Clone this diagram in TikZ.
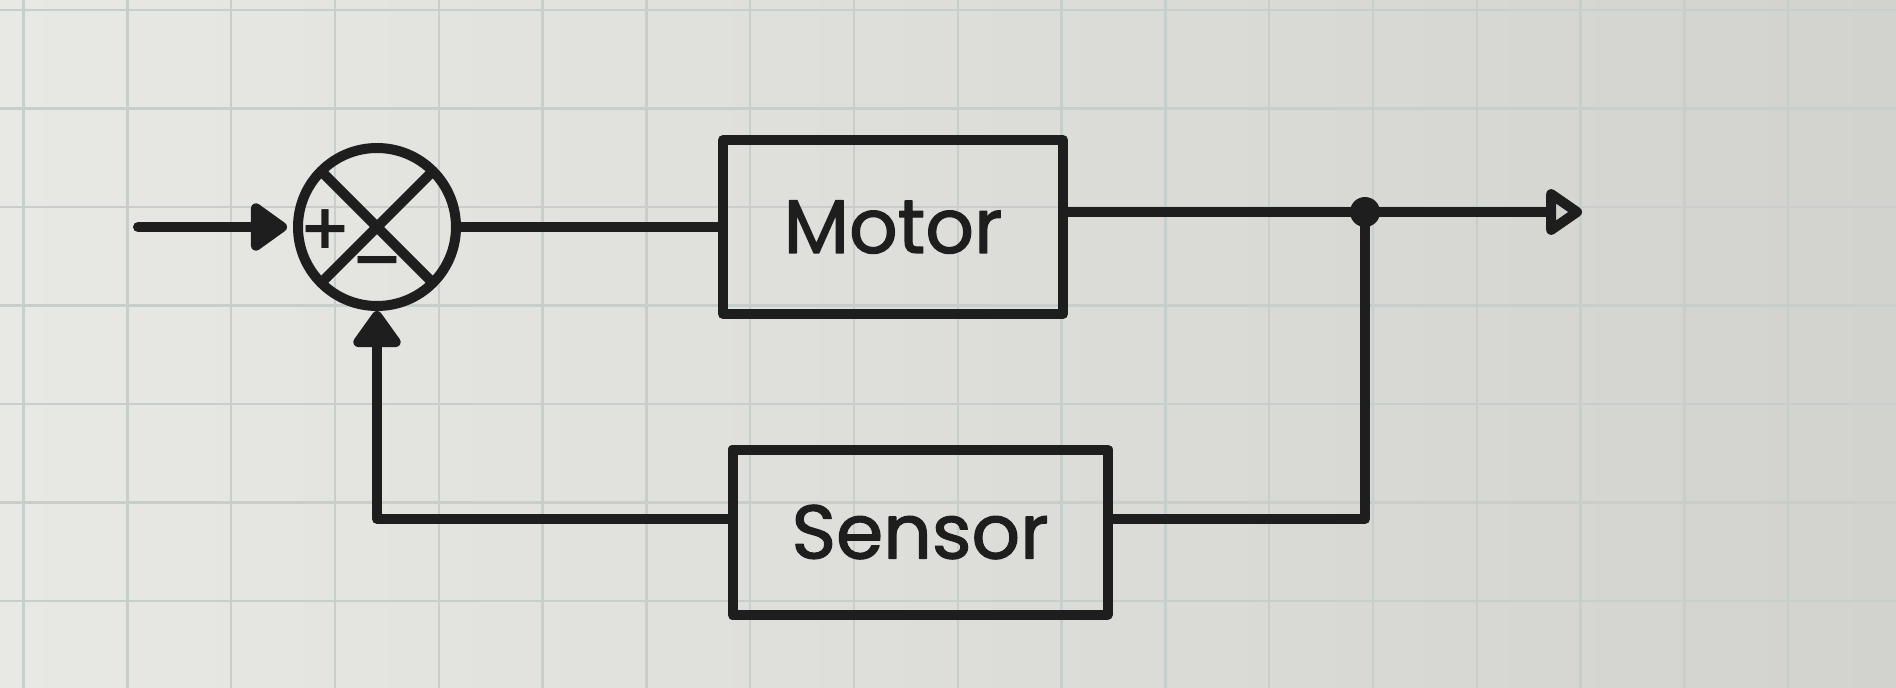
\documentclass[tikz,border=0pt]{standalone}
\usepackage{fontspec}
\setmainfont{Poppins}
\newfontfamily\handfont{Poppins}[FakeBold=1.6]
\newfontfamily\symfont{DejaVu Sans}
\usetikzlibrary{arrows.meta,calc}
\definecolor{paperL}{RGB}{232,232,229}
\definecolor{paperR}{RGB}{210,210,207}
\definecolor{gridc}{RGB}{199,207,205}
\definecolor{ink}{RGB}{30,30,30}
\tikzset{
  pen/.style={draw=ink, line width=10pt, line cap=round, line join=round},
  block/.style={pen, rectangle, inner sep=0pt, font=\handfont\fontsize{76}{90}\selectfont, text=ink},
  summer/.style={pen, circle, minimum size=158pt, inner sep=0pt},
  sign/.style={font=\symfont\bfseries\fontsize{62}{64}\selectfont, text=ink, inner sep=0pt},
  tipfill/.style={-{Triangle[round,length=40pt,width=54pt]}},
  tipopen/.style={-{Triangle[open,round,fill=paperR,length=40pt,width=52pt]}},
  gridline/.style={draw=gridc, line width=2.5pt},
}
\begin{document}
\begin{tikzpicture}[x=1pt,y=-1pt]
\useasboundingbox (0,0) rectangle (1896,688);
\shade[left color=paperL,right color=paperR] (0,0) rectangle (1896,688);
\foreach \k in {-3,...,14} \draw[gridline] ({335+103.8*\k},0) -- ({335+103.8*\k},688);
\foreach \k in {0,...,6} \draw[gridline] (0,{10+98.5*\k}) -- (1896,{10+98.5*\k});

% nodes
\node[summer] (sum) at (377,227) {};
\draw[pen] ($(sum.center)+(135:77)$) -- ($(sum.center)+(-45:77)$);
\draw[pen] ($(sum.center)+(45:77)$) -- ($(sum.center)+(-135:77)$);
\node[sign] (plus) at (325,229) {+};
\node[sign] (minus) at (377,268) {−};

\node[block, minimum width=340pt, minimum height=174pt] (motor) at (893,227) {Motor};
\node[block, minimum width=375pt, minimum height=165pt] (sensor) at (920,532) {Sensor};

% coordinates
\coordinate (in) at (138,227);
\coordinate (j) at (1365,212);
\coordinate (out) at (1582,212);
\coordinate (fb) at (377,519);

% connectors
\draw[pen, tipfill, shorten >=6pt] (in) -- (sum.west);
\draw[pen] (sum.east) -- (motor.west);
\draw[pen, tipopen] (motor.east |- j) -- (out);
\fill[ink] (j) circle (15pt);
\draw[pen] (j) -- (j |- fb) -- (sensor.east |- fb);
\draw[pen, tipfill] (sensor.west |- fb) -- (fb) -- (sum.south);
\end{tikzpicture}
\end{document}
